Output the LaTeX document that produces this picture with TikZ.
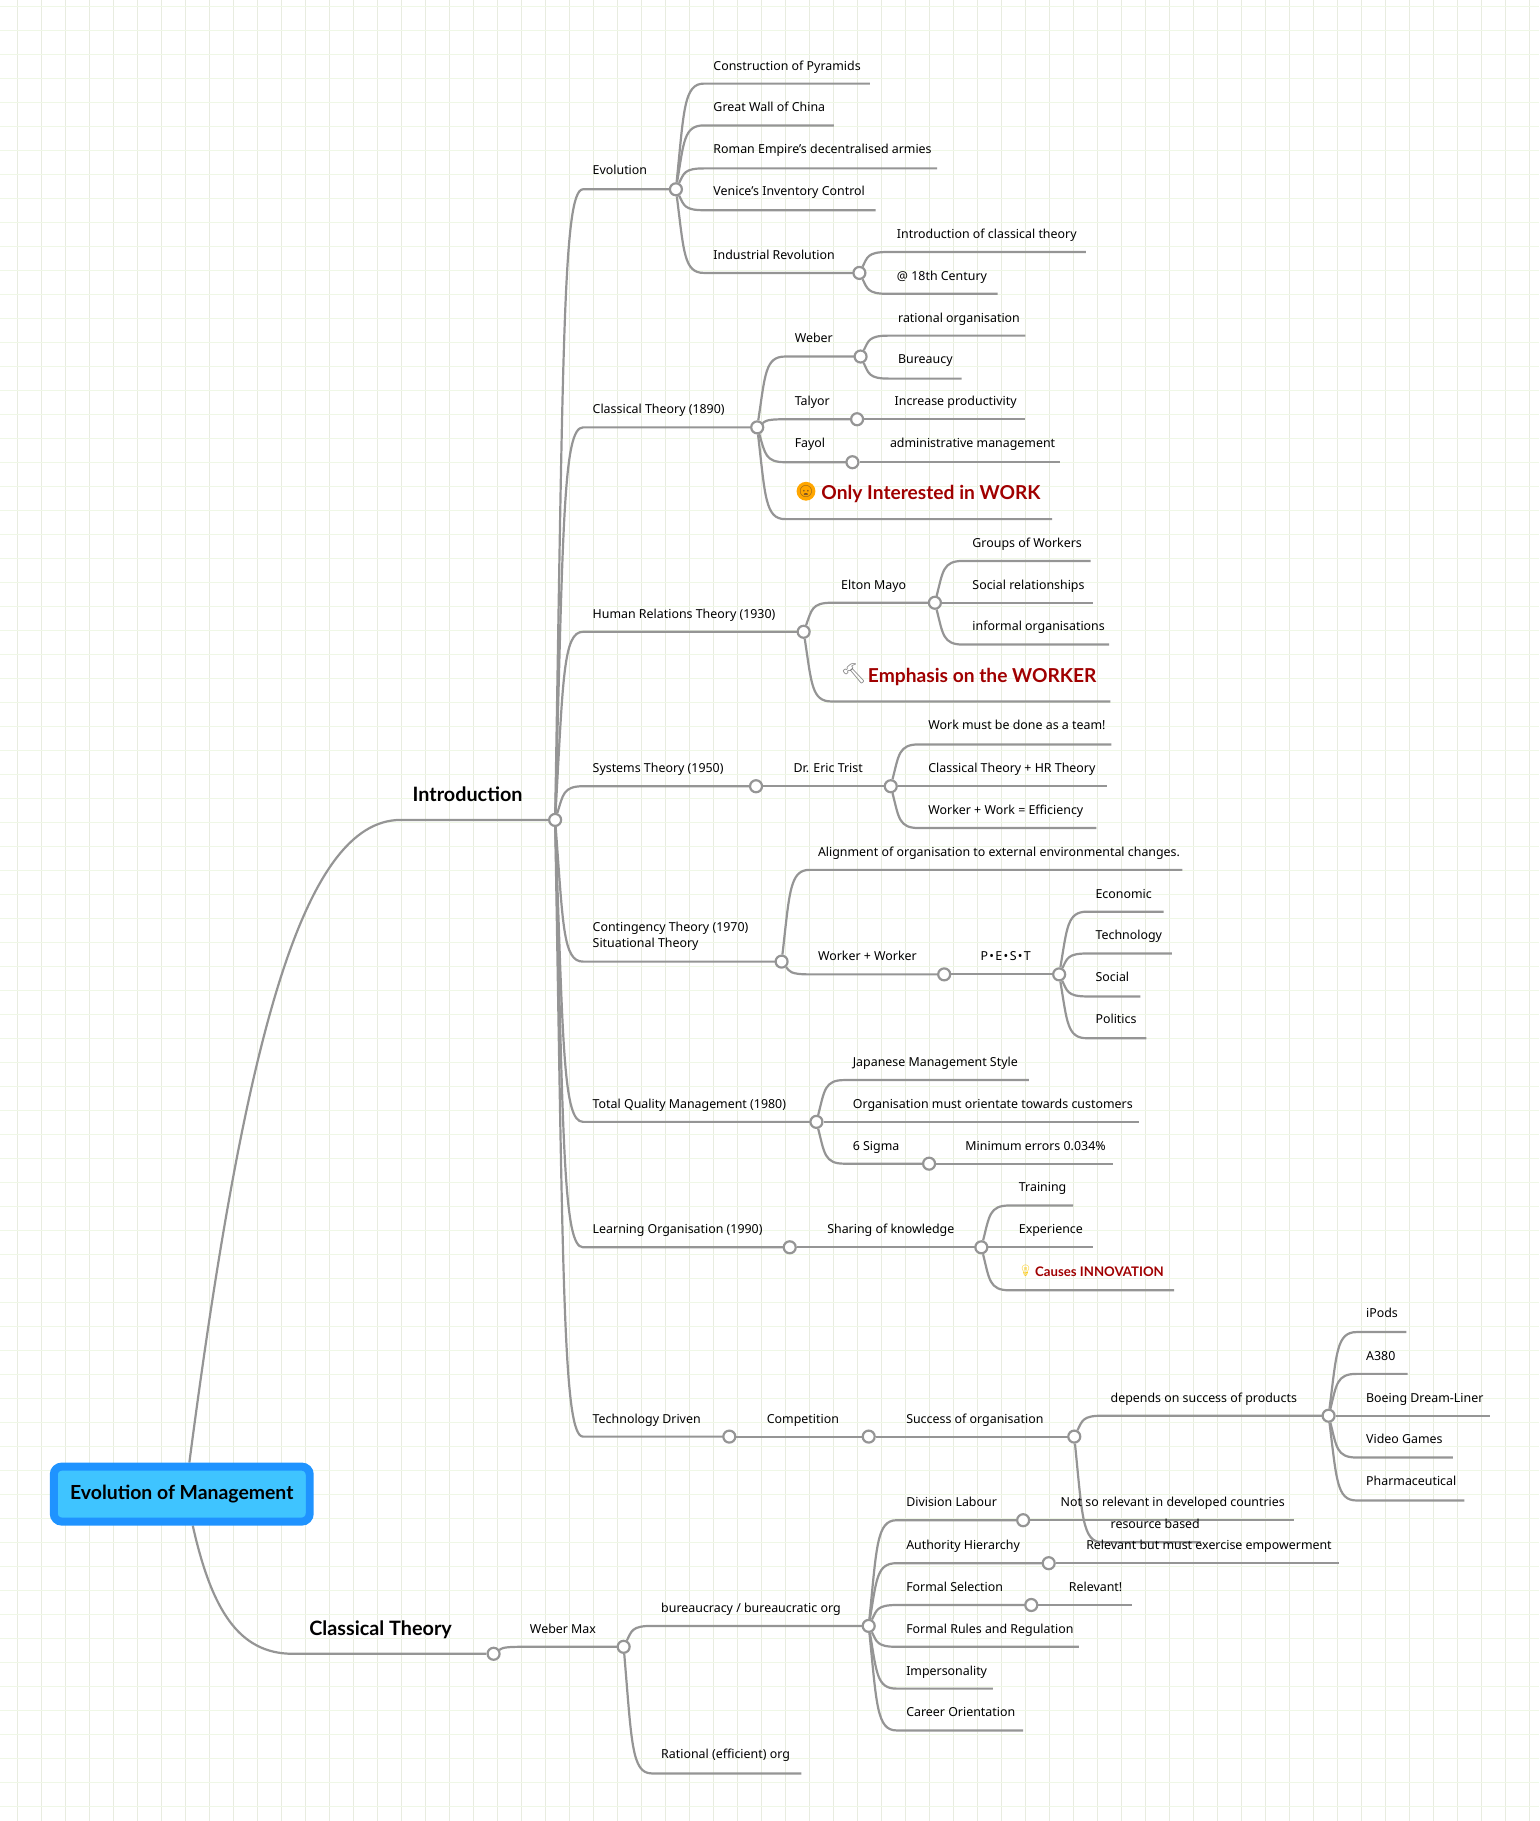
\documentclass[tikz,border=0pt]{standalone}
\usepackage{fontspec}
\setmainfont{Noto Sans}
\newfontfamily\headfont{Lato}
\newfontfamily\emojifont{Noto Emoji}
\usetikzlibrary{calc}
\pgfdeclarelayer{back}
\pgfsetlayers{back,main}
\definecolor{gridv}{HTML}{E8ECE0}
\definecolor{gridh}{HTML}{EFF7E6}
\definecolor{wirecol}{HTML}{959595}
\definecolor{rootline}{HTML}{1F93FF}
\definecolor{rootfill}{HTML}{3FC4FF}
\definecolor{alert}{HTML}{A00000}
\tikzset{
  wire/.style={draw=wirecol, line width=1.1pt},
  hub/.style={circle, draw=wirecol, fill=white, line width=1.1pt, minimum size=6pt, inner sep=0pt},
  lbl/.style={anchor=west, inner sep=0pt, yshift=-0.7pt, font=\fontsize{6.2}{8}\selectfont, text height=5pt, text depth=1.4pt},
  major/.style={anchor=west, inner sep=0pt, font=\headfont\fontsize{9.9}{11}\selectfont\bfseries},
  redbig/.style={anchor=west, inner sep=0pt, text=alert, font=\headfont\fontsize{9.6}{12}\selectfont\bfseries},
  twig/.style={to path={let \p1=(\tikztostart), \p2=(\tikztotarget) in
    .. controls ($(\x1,\y1)+(4pt,{0.75*(\y2-\y1)})$) and ($(\x1,\y2)+(4pt,0)$) .. ($(\x1,\y2)+(13.95pt,0)$) -- (\p2)}}
}
\begin{document}
\begin{tikzpicture}[x=0.5807pt, y=-0.5807pt]
  \useasboundingbox (0,0) rectangle (1325.2,1568);

  % Background grid
  \begin{pgfonlayer}{back}
    \foreach \i in {0,...,63} {
      \draw[gridv, line width=0.5pt] ({14.9+20.665*\i},0) -- ({14.9+20.665*\i},1568);
    }
    \foreach \i in {0,...,75} {
      \draw[gridh, line width=0.5pt] (0,{5.8+20.665*\i}) -- (1325.2,{5.8+20.665*\i});
    }
  \end{pgfonlayer}

  % Root
  \node[draw=rootline, fill=rootfill, line width=4pt, rounded corners=4pt, minimum width=128pt, minimum height=27.5pt, inner sep=0pt, font=\headfont\fontsize{9.7}{12}\selectfont\bfseries] (root) at (156.5,1286.5) {\raisebox{-0.5pt}{Evolution of Management}};

  % Hubs
  \foreach \n/\x/\y in {intro/478/706, evo/582/163, indrev/740/235, clas/652/368, weber/741/307, talyor/738/361, fayol/734/398, human/692/544, mayo/805/519, sys/651/677, trist/767/677, cont/673/828, worker/813/839, pest/912/839, tqm/703/966, sigma/800/1002, learn/680/1074, share/845/1074, tech/628/1237, comp/748/1237, succ/925/1237, depends/1144/1219, ct/425/1424, max/537/1418, bur/748/1400, div/881/1309, auth/903/1346, formal/888/1382} {
    \node[hub] (\n) at (\x,\y) {};
  }

  % Free ends of the branches
  \foreach \n/\x/\y in {pyr/749/72, wall/718/108, roman/807/145, venice/754/181, introc/935/217, century/859/253, rat/883/289, burc/828/326, incr/883/361, admin/913/398, only/906/447, groups/939/483, social/941/519, informal/955/555, emph/956/604, team/957/641, hr/953/677, eff/944/713, align/1018/749, econ/1002/785, techn/1009/821, socl/982/858, pol/987/894, jap/886/930, cust/981/966, minim/958/1002, train/924/1038, exper/941/1074, innov/1011/1111, ipod/1211/1147, afour/1212/1183, boeing/1283/1219, video/1251/1255, pharma/1261/1292, resource/1034/1328, notso/1114/1309, relbut/1153/1346, relevant/975/1382, rules/929/1418, imper/855/1454, career/881/1490, rational/690/1527} {
    \coordinate (\n) at (\x,\y);
  }

  % Branches
  \begin{pgfonlayer}{back}
    \foreach \a/\b in {intro/evo, evo/pyr, evo/wall, evo/roman, evo/venice, evo/indrev, indrev/introc, indrev/century, intro/clas, clas/weber, clas/talyor, clas/fayol, clas/only, weber/rat, weber/burc, talyor/incr, fayol/admin, intro/human, human/mayo, human/emph, mayo/groups, mayo/social, mayo/informal, intro/sys, sys/trist, trist/team, trist/hr, trist/eff, intro/cont, cont/align, cont/worker, worker/pest, pest/econ, pest/techn, pest/socl, pest/pol, intro/tqm, tqm/jap, tqm/cust, tqm/sigma, sigma/minim, intro/learn, learn/share, share/train, share/exper, share/innov, intro/tech, tech/comp, comp/succ, succ/depends, succ/resource, depends/ipod, depends/afour, depends/boeing, depends/video, depends/pharma, ct/max, max/bur, max/rational, bur/div, bur/auth, bur/formal, bur/rules, bur/imper, bur/career, div/notso, auth/relbut, formal/relevant} {
      \draw[wire] (\a) to[twig] (\b);
    }
    \draw[wire] ([xshift=3.8pt]root.north) .. controls (210,900) and (260,706) .. (345,706) -- (intro);
    \draw[wire] ([xshift=5.5pt]root.south) .. controls (182,1385) and (205,1424) .. (252,1424) -- (ct);
  \end{pgfonlayer}

  % Labels
  \foreach \n/\x/\y/\t in {tevo/510/146/Evolution, tpyr/614/56/Construction of Pyramids, twall/614/92/Great Wall of China, troman/614/128/Roman Empire's decentralised armies, tvenice/614/164/Venice's Inventory Control, tindrev/614/219/Industrial Revolution, tintroc/772/201/Introduction of classical theory, tcentury/772/237/@ 18th Century, tclas/510/352/Classical Theory (1890), tweber/684/291/Weber, trat/773/273/rational organisation, tburc/773/309/Bureaucy, ttalyor/684/345/Talyor, tincr/770/345/Increase productivity, tfayol/684/381/Fayol, tadmin/766/381/administrative management, thuman/510/528/Human Relations Theory (1930), tmayo/724/503/Elton Mayo, tgroups/837/467/Groups of Workers, tsocial/837/503/Social relationships, tinformal/837/539/informal organisations, tsys/510/661/Systems Theory (1950), ttrist/683/661/Dr. Eric Trist, tteam/799/624/Work must be done as a team!, thr/799/661/Classical Theory + HR Theory, teff/799/697/Worker + Work = Efficiency, talign/704/733/Alignment of organisation to external environmental changes., tworker/704/823/Worker + Worker, tecon/943/769/Economic, ttechn/943/805/Technology, tsocl/943/841/Social, tpol/943/877/Politics, ttqm/510/950/Total Quality Management (1980), tjap/734/914/Japanese Management Style, tcust/734/950/Organisation must orientate towards customers, tsigma/734/986/6 Sigma, tminim/831/986/Minimum errors 0.034\%, tlearn/510/1058/Learning Organisation (1990), tshare/712/1058/Sharing of knowledge, ttrain/877/1022/Training, texper/877/1058/Experience, ttech/510/1221/Technology Driven, tcomp/660/1221/Competition, tsucc/780/1221/Success of organisation, tdepends/956/1203/depends on success of products, tipod/1176/1130/iPods, tafour/1176/1167/A380, tboeing/1176/1203/Boeing Dream-Liner, tvideo/1176/1239/Video Games, tpharma/1176/1275/Pharmaceutical, tresource/956/1312/resource based, tmax/456/1402/Weber Max, tdiv/780/1293/Division Labour, tnotso/913/1293/Not so relevant in developed countries, tauth/780/1330/Authority Hierarchy, trelbut/935/1330/Relevant but must exercise empowerment, tformal/780/1366/Formal Selection, trelevant/920/1366/Relevant!, trules/780/1402/Formal Rules and Regulation, timper/780/1438/Impersonality, tcareer/780/1474/Career Orientation, trational/569/1510/Rational (efficient) org} {
    \node[lbl] (\n) at (\x,\y) {\t};
  }
  \node[lbl] (tbur) at (569,1384) {bureaucracy / bureaucratic org};
  \node[lbl] (tpest) at (844,823) {\addfontfeature{LetterSpace=11}P•E•S•T};
  \node[anchor=west, inner sep=0pt, yshift=-0.7pt, align=left, font=\fontsize{6.2}{8.1}\selectfont] (tcont) at (510,805) {Contingency Theory (1970)\\Situational Theory};

  \node[major] (tintro) at (355,684) {Introduction};
  \node[major] (tct) at (266,1403) {Classical Theory};

  % Highlighted notes
  \node[redbig] (tonly) at (707,425) {Only Interested in WORK};
  \node[redbig] (temph) at (747,583) {Emphasis on the WORKER};
  \node[anchor=west, inner sep=0pt, text=alert, font=\headfont\fontsize{6.6}{7}\selectfont\bfseries] (tinnov) at (891,1095) {Causes INNOVATION};
  \node[circle, fill=orange!70!yellow, inner sep=0pt, text=brown!60!black, font=\emojifont\fontsize{5.8}{6}\selectfont] (faceicon) at (694,423) {😦};
  \node[inner sep=0pt, text=gray, font=\emojifont\fontsize{10}{10}\selectfont] (hammericon) at (735,580) {🔨};
  \node[inner sep=0pt, text=yellow!60!orange, font=\emojifont\fontsize{5.5}{6}\selectfont] (bulbicon) at (883,1094) {💡};
\end{tikzpicture}
\end{document}
